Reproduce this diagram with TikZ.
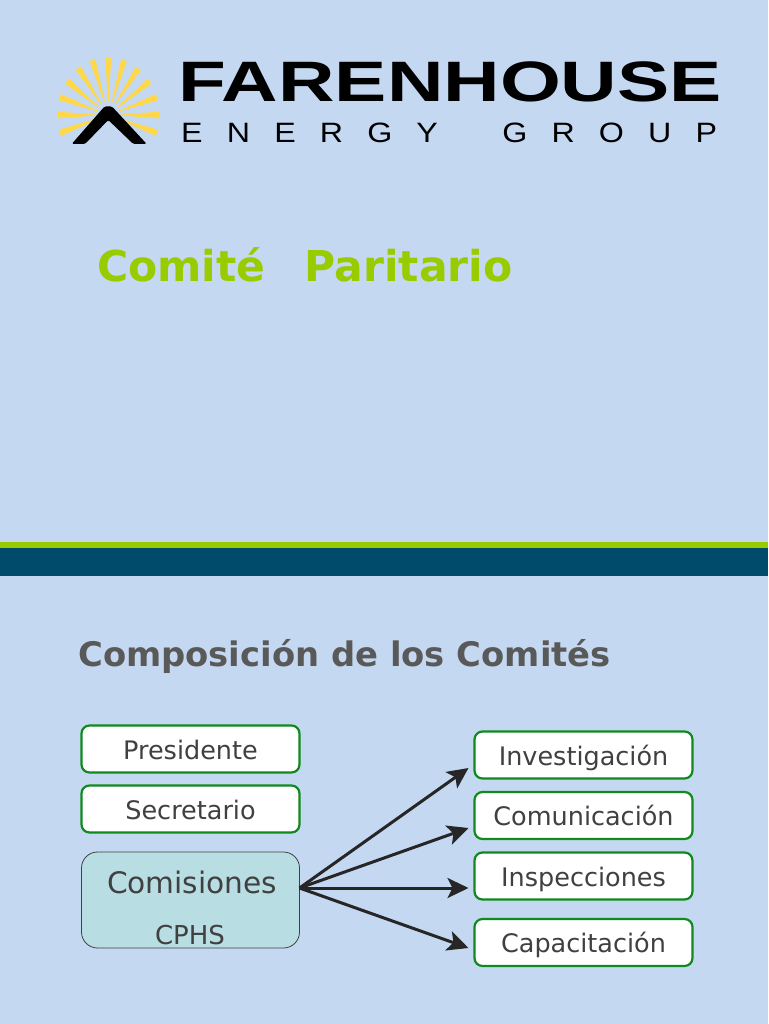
\documentclass[tikz,border=0pt]{standalone}
\usepackage{fontspec}
\setmainfont{DejaVu Sans}
\newfontfamily\logofont{Liberation Sans}
\newfontfamily\groupfont[LetterSpace=75]{Liberation Sans}
\usetikzlibrary{arrows.meta}
\definecolor{pagebg}{HTML}{C5D8F1}
\definecolor{limegreen}{HTML}{99CC00}
\definecolor{navybar}{HTML}{004B6B}
\definecolor{boxgreen}{HTML}{0F8A1E}
\definecolor{boxteal}{HTML}{B8DDE2}
\definecolor{textgrey}{HTML}{404040}
\definecolor{headgrey}{HTML}{595959}
\definecolor{arrowgrey}{HTML}{262626}
\definecolor{raygold}{HTML}{FFD84A}
\tikzset{
  rolebox/.style={draw=boxgreen,line width=2.2pt,fill=white,rounded corners=8pt,minimum width=218pt,minimum height=47pt,inner sep=0pt,outer sep=0pt,text=textgrey,text height=26pt,text depth=6pt,font=\fontsize{25.5}{28}\selectfont},
  link/.style={draw=arrowgrey,line width=3pt,-{Stealth[length=21pt,width=20pt,inset=5pt]}}
}
\begin{document}
\begin{tikzpicture}[x=1pt,y=-1pt]
          \useasboundingbox (0,0) rectangle (768,1024);
          \fill [pagebg] (0,0) rectangle (768,1024);
          \foreach \ang in {-18,0,...,198} {
            \fill [raygold,shift={(108.3,115)},yscale=1.13,rotate=\ang] (12,-0.4) -- (51,-3) -- (51,3) -- (12,0.4) -- cycle;
          }
          \fill [black,rounded corners=1.5pt] (71.7,144) -- (104.5,106.5) -- (112,106.5) -- (146.7,144) -- (133.3,144) -- (108.3,120) -- (85,144) -- cycle;
          \node (brand) at (178,102) [anchor=base west,xscale=1.373,font=\logofont\bfseries\fontsize{57}{60}\selectfont,inner sep=0pt] {FARENHOUSE};
          \node (group) at (181,143) [anchor=base west,xscale=1.15,font=\groupfont\fontsize{28}{30}\selectfont,inner sep=0pt] {ENERGY\hspace{56pt}GROUP};
          \node (title) at (97,281) [anchor=base west,text=limegreen,font=\bfseries\fontsize{42.5}{48}\selectfont,inner sep=0pt] {Comité\hspace{39pt}Paritario};
          \fill [limegreen] (0,542) rectangle (768,548);
          \fill [navybar] (0,548) rectangle (768,576);
          \node (head) at (78,666) [anchor=base west,text=headgrey,font=\bfseries\fontsize{33.8}{38}\selectfont,inner sep=0pt] {Composición de los Comités};
          \node (pres) at (190.5,749) [rolebox] {Presidente};
          \node (secr) at (190.5,809) [rolebox] {Secretario};
          \node (cphs) at (190.5,900) [rolebox,draw=textgrey,line width=0.8pt,fill=boxteal,rounded corners=16pt,minimum height=96pt] {};
          \node (comi) at (192,893) [anchor=base,text=textgrey,font=\fontsize{29.6}{32}\selectfont,inner sep=0pt] {Comisiones};
          \node (sigla) at (190,944) [anchor=base,text=textgrey,font=\fontsize{26}{28}\selectfont,inner sep=0pt] {CPHS};
          \node (inve) at (583.5,755) [rolebox] {Investigación};
          \node (comu) at (583.5,815.5) [rolebox] {Comunicación};
          \node (insp) at (583.5,876) [rolebox] {Inspecciones};
          \node (capa) at (583.5,942.5) [rolebox] {Capacitación};
          \foreach \target/\dy in {inve/-13,comu/-12.5,insp/-12,capa/-5.5} {
            \draw [link] ([yshift=12pt]cphs.east) -- ([xshift=-6pt,yshift=\dy pt]\target.west);
          }
  \end{tikzpicture}
\end{document}
